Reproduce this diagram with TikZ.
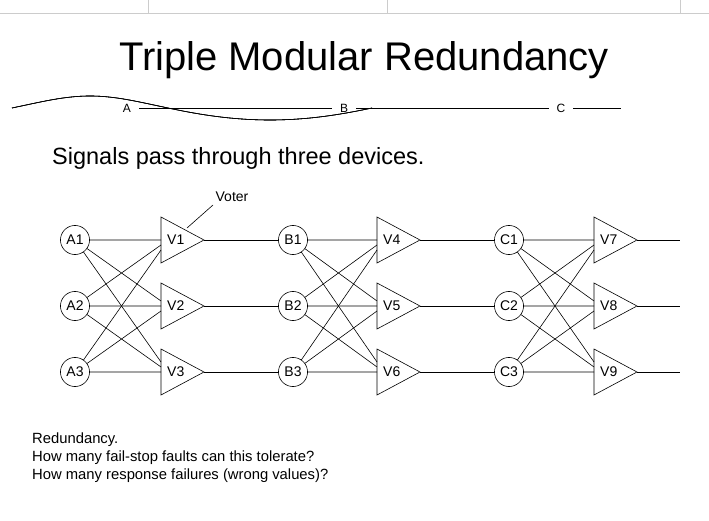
\documentclass[tikz,border=0pt]{standalone}
\usepackage{fontspec}
\setmainfont{Liberation Sans}
\begin{document}
\begin{tikzpicture}[x=1pt,y=1pt,
  cir/.style={circle,minimum size=29pt,inner sep=0pt,font=\fontsize{14}{14}\selectfont},
  sc/.style={circle,minimum size=24pt,inner sep=0pt,font=\fontsize{12}{12}\selectfont},
  wire/.style={draw,line width=0.6pt},
  ring/.style={line width=0.6pt},
  lbl/.style={inner sep=0pt,font=\fontsize{14}{14}\selectfont},
  txt/.style={inner sep=0pt,font=\fontsize{14.8}{14.8}\selectfont}]
\useasboundingbox (0,0) rectangle (709,-521);
\draw[gray!40] (0,-13) -- (709,-13);
\foreach \x in {148,387,680} \draw[gray!40] (\x,0) -- (\x,-13);
\node[inner sep=0pt,font=\fontsize{40}{40}\selectfont] (title) at (364,-60) {Triple Modular Redundancy};
\foreach \n/\x in {A/127,B/344,C/561}{
  \node[sc] (\n) at (\x,-108) {\n};
  \draw[ring] plot[domain=0:360,samples=73] ({\x+12*cos(\x)},{-108+12*sin(\x)});
}
\coordinate (Cend) at (621,-108);
\draw[wire] (A)--(B) (B)--(C) (C)--(Cend);
\node[anchor=west,inner sep=0pt,font=\fontsize{23.5}{23.5}\selectfont] (sig) at (52,-158) {Signals pass through three devices.};
% stages
\foreach \s/\cx/\vx/\vn in {A/75/161/0,B/293/377/3,C/509/594/6}{
  \foreach \i/\y in {1/-240,2/-306,3/-372}{
    \node[cir] (\s\i) at (\cx,\y) {\s\i};
    \draw[ring] plot[domain=0:360,samples=73] ({\cx+14.5*cos(\x)},{\y+14.5*sin(\x)});
    \pgfmathtruncatemacro\vv{\vn+\i}
    \draw[line width=0.6pt] (\vx,\y+23) -- (\vx+43,\y) -- (\vx,\y-23) -- cycle;
    \coordinate (V\vv tip) at (\vx+43,\y);
    \node[lbl,anchor=west] (V\vv) at (\vx+6,\y) {V\vv};
    \foreach \j in {1,2,3}{
      \coordinate (in\s\j\i) at (\vx,\y-5*\j+5*\i+0.01);
    }
  }
  \foreach \i in {1,2,3}{\foreach \j in {1,2,3}{
    \draw[wire] (\s\i) -- (in\s\i\j);
  }}
}
% outputs
\foreach \a/\b in {1/B1,2/B2,3/B3,4/C1,5/C2,6/C3}{\draw[wire] (V\a tip) -- (\b);}
\foreach \a/\y in {7/-240,8/-306,9/-372}{
  \coordinate (out\a) at (680,\y);
  \draw[wire] (V\a tip) -- (out\a);}
\node[lbl,anchor=south] (voter) at (232,-202) {Voter};
\coordinate (vt) at (187,-228);
\coordinate (vs) at (213,-205);
\draw[wire] (vs) -- (vt);
\node[txt,anchor=west] (t1) at (32,-440) {Redundancy.};
\node[txt,anchor=west] (t2) at (32,-458) {How many fail-stop faults can this tolerate?};
\node[txt,anchor=west] (t3) at (32,-476) {How many response failures (wrong values)?};
\end{tikzpicture}
\end{document}
